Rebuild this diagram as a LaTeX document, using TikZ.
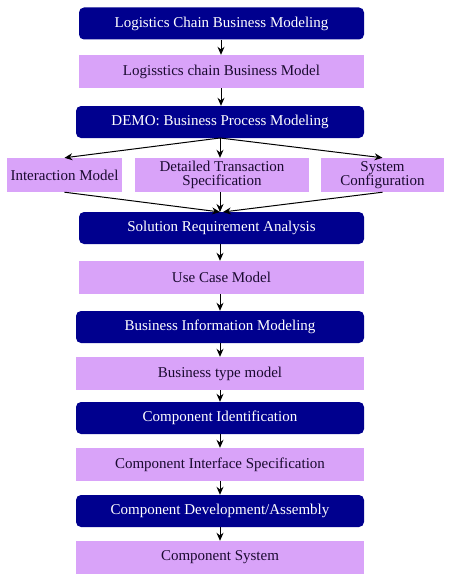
\documentclass[tikz,border=0pt]{standalone}
\usepackage{fontspec}
\setmainfont{Liberation Serif}
\usetikzlibrary{arrows.meta}
\definecolor{navyb}{HTML}{00008E}
\definecolor{lilac}{HTML}{D9A3F9}
\definecolor{txtd}{HTML}{1A0A30}
\tikzset{
  dark/.style={draw=none, fill=navyb, rounded corners=5pt, text=white, font=\fontsize{15}{15}\selectfont, minimum height=32pt, inner sep=0pt, align=center},
  light/.style={draw=none, fill=lilac, text=txtd, font=\fontsize{15}{15}\selectfont, minimum height=33pt, inner sep=0pt, align=center},
  arr/.style={-{Stealth[length=8pt,width=7pt]}, line width=1pt, black},
}
\begin{document}
\begin{tikzpicture}[x=1pt,y=-1pt]
\useasboundingbox (0,0) rectangle (453,578);
\node[dark, minimum width=285pt] (n1) at (221.5,23.5) {Logistics Chain Business Modeling};
\node[light, minimum width=285pt] (n2) at (221.5,71.5) {Logisstics chain Business Model};
\node[dark, minimum width=288pt] (n3) at (220,122) {DEMO: Business Process Modeling};
\node[light, minimum width=115pt, minimum height=34pt] (im) at (64.5,175) {Interaction Model};
\node[light, minimum width=174pt, minimum height=34pt] (dts) at (222,175) {Detailed Transaction\\[-1.5pt]Specification};
\node[light, minimum width=123pt, minimum height=34pt] (sc) at (382.5,175) {System\\[-1.5pt]Configuration};
\node[dark, minimum width=285pt] (n5) at (221.5,228) {Solution Requirement Analysis};
\node[light, minimum width=285pt] (n6) at (221.5,277.5) {Use Case Model};
\node[dark, minimum width=288pt] (n7) at (220,327) {Business Information Modeling};
\node[light, minimum width=288pt] (n8) at (220,373.5) {Business type model};
\node[dark, minimum width=288pt] (n9) at (220,418) {Component Identification};
\node[light, minimum width=288pt] (n10) at (220,464.5) {Component Interface Specification};
\node[dark, minimum width=288pt] (n11) at (220,511) {Component Development/Assembly};
\node[light, minimum width=288pt] (n12) at (220,557.5) {Component System};
\coordinate (d3) at (220,138);
\coordinate (t5) at (220,212);
\draw[arr] (n1.south -| 221,0) -- (n2.north -| 221,0);
\draw[arr] (n2.south -| 221,0) -- (n3.north -| 221,0);
\draw[arr] (d3) -- (im.north);
\draw[arr] (d3) -- (dts.north -| d3);
\draw[arr] (d3) -- (sc.north);
\draw[arr] (im.south) -- (t5);
\draw[arr] (dts.south -| t5) -- (t5);
\draw[arr] (sc.south) -- ([xshift=3pt]t5);
\draw[arr] (n5.south -| 220,0) -- (n6.north -| 220,0);
\draw[arr] (n6.south -| 220,0) -- (n7.north -| 220,0);
\draw[arr] (n7.south -| 220,0) -- (n8.north -| 220,0);
\draw[arr] (n8.south -| 220,0) -- (n9.north -| 220,0);
\draw[arr] (n9.south -| 220,0) -- (n10.north -| 220,0);
\draw[arr] (n10.south -| 220,0) -- (n11.north -| 220,0);
\draw[arr] (n11.south -| 220,0) -- (n12.north -| 220,0);
\end{tikzpicture}
\end{document}
